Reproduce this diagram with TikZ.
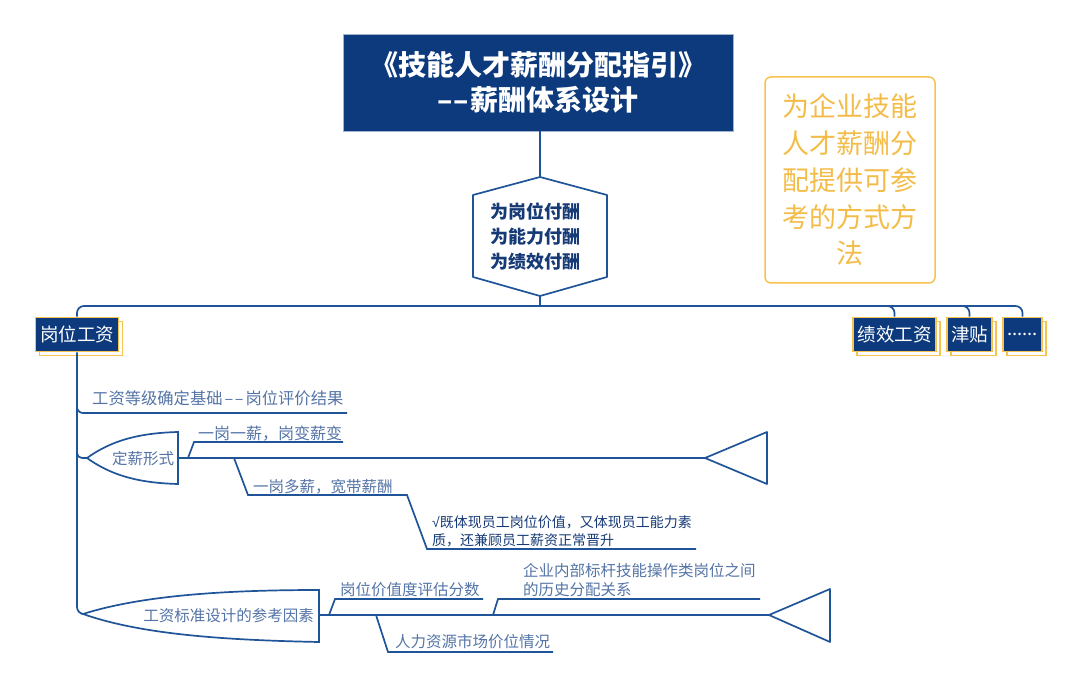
\documentclass[tikz,border=0pt]{standalone}
\usepackage{fontspec}
\setmainfont{Noto Sans CJK SC}
\newfontfamily\radfont{Liberation Sans}
\usetikzlibrary{shadows,calc}
\definecolor{navy}{RGB}{12,58,124}
\definecolor{lineblue}{RGB}{32,84,152}
\definecolor{steel}{RGB}{84,116,166}
\definecolor{darktext}{RGB}{22,58,118}
\definecolor{tagyellow}{RGB}{247,194,78}
\definecolor{notetext}{RGB}{243,188,72}
\definecolor{titleborder}{RGB}{160,180,208}
\begin{document}
\begin{tikzpicture}[x=1pt,y=-1pt,
  conn/.style={draw=lineblue, line width=1.7pt},
  titlebox/.style={fill=navy, draw=titleborder, line width=0.8pt, text=white, align=center, inner sep=0pt,
    font=\bfseries\fontsize{28}{35}\selectfont},
  hextext/.style={text=darktext, align=center, inner sep=0pt, font=\bfseries\fontsize{18}{25}\selectfont},
  tag/.style={fill=navy, draw=tagyellow, line width=1.8pt, text=white, inner sep=0pt, minimum height=34,
    font=\fontsize{18.5}{22}\selectfont,
    copy shadow={shadow xshift=4pt, shadow yshift=-4pt, fill=white, draw=tagyellow, line width=1.8pt}},
  lbl/.style={text=steel, inner sep=0pt, anchor=base west, font=\fontsize{15.5}{19}\selectfont},
  note/.style={draw=tagyellow, line width=1.5pt, rounded corners=6, text=notetext, align=center,
    minimum width=170, minimum height=206, inner sep=0pt, font=\fontsize{27}{36.7}\selectfont},
  shapest/.style={draw=lineblue, line width=1.7pt, fill=white}
]
\useasboundingbox (0,0) rectangle (1080,687);

% title
\node[titlebox, minimum width=390, minimum height=97] (title) at (538,82.5)
  {《技能人才薪酬分配指引》\\–\kern1pt–\kern1pt薪酬体系设计};

% note
\node[note] (note) at (850,180) {为企业技能\\人才薪酬分\\配提供可参\\考的方式方\\法};

% hexagon
\coordinate (hexT) at (540,177);
\coordinate (hexB) at (540,296);
\coordinate (bus) at (0,306);
\draw[conn, line join=round] (hexT) -- (607,195) -- (607,277) -- (hexB) -- (473,277) -- (473,195) -- cycle;
\node[hextext] (hex) at (535,237) {为岗位付酬\\为能力付酬\\为绩效付酬};
\draw[conn] (title.south -| hexT) -- (hexT);

% tags
\node[tag, minimum width=83] (gw) at (77,334.5) {岗位工资};
\node[tag, minimum width=83] (jx) at (894.5,334.5) {绩效工资};
\node[tag, minimum width=45] (jt) at (969.5,334.5) {津贴};
\node[tag, minimum width=39] (dots) at (1022.5,334.5) {......};

% bus
\draw[conn] (hexB) -- (hexB |- bus);
\draw[conn, rounded corners=7] (gw.north) -- (gw.north |- bus) -- (dots.north |- bus) -- (dots.north);
\draw[conn, rounded corners=7] ($(jx.north |- bus)+(-12,0)$) -- (jx.north |- bus) -- (jx.north);
\draw[conn, rounded corners=7] ($(jt.north |- bus)+(-12,0)$) -- (jt.north |- bus) -- (jt.north);

% trunk
\draw[conn, rounded corners=7] (gw.south) -- (77,614) -- (85,614);

% branch 1
\node[lbl, font=\fontsize{16.3}{19}\selectfont] (grade) at (92,404) {工资等级确定基础\kern2pt–\kern1.5pt–\kern2pt岗位评价结果};
\draw[conn, rounded corners=6] (77,400) -- (77,413) -- (347,413);

% 定薪形式
\draw[conn, rounded corners=5] (77,448) -- (77,458) -- (87,458);
\draw[shapest] (87,458) .. controls (112,440) and (140,433) .. (178,432) -- (178,484)
  .. controls (140,483) and (112,476) .. cycle;
\node[text=steel, inner sep=0pt, font=\fontsize{15.5}{19}\selectfont] (dx) at (143,459) {定薪形式};
\draw[conn] (178,458) -- (705,458);
\draw[conn, line join=round] (705,458) -- (767,432) -- (767,484) -- cycle;
\node[lbl, font=\fontsize{16}{19}\selectfont] (y1) at (198,439) {一岗一薪，岗变薪变};
\draw[conn] (188,458) -- (194,442) -- (343,442);
\node[lbl] (y2) at (253,492) {一岗多薪，宽带薪酬};
\draw[conn] (234,458) -- (248,495) -- (407,495) -- (427,549) -- (696,549);
\node[text=darktext, inner sep=0pt, anchor=base west, align=left, font=\fontsize{14}{18}\selectfont] (chk)
  at (432,545) {{\radfont √}既体现员工岗位价值，又体现员工能力素\\质，还兼顾员工薪资正常晋升};

% 工资标准设计的参考因素
\draw[shapest] (83,614) .. controls (140,596) and (220,590) .. (319,590) -- (319,642)
  .. controls (220,640) and (140,634) .. cycle;
\node[text=steel, inner sep=0pt, anchor=east, font=\fontsize{15.5}{19}\selectfont] (gz) at (314,616) {工资标准设计的参考因素};
\draw[conn] (319,615) -- (769,615);
\draw[conn, line join=round] (769,615) -- (830,589) -- (830,642) -- cycle;
\node[lbl] (val) at (340,595) {岗位价值度评估分数};
\draw[conn] (329,615) -- (335,599) -- (483,599);
\node[lbl] (mkt) at (395,647) {人力资源市场价位情况};
\draw[conn] (376,615) -- (388,652) -- (553,652);
\node[lbl, align=left] (hist) at (523,595) {企业内部标杆技能操作类岗位之间\\的历史分配关系};
\draw[conn] (493,615) -- (498,599) -- (760,599);
\end{tikzpicture}
\end{document}
